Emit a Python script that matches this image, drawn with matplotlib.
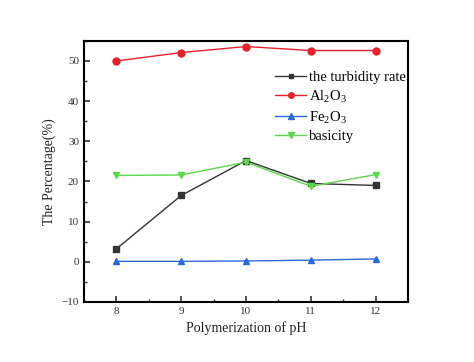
import matplotlib
matplotlib.use("Agg")
import matplotlib.pyplot as plt
from matplotlib.ticker import MultipleLocator

plt.rcParams['font.family'] = ['Liberation Serif', 'DejaVu Serif']
plt.rcParams['mathtext.fontset'] = 'custom'
plt.rcParams['mathtext.rm'] = 'Liberation Serif'

ph = [8, 9, 10, 11, 12]
turbidity = [3.2, 16.5, 25.2, 19.5, 19.0]
al2o3 = [50.0, 52.1, 53.6, 52.6, 52.6]
fe2o3 = [0.1, 0.1, 0.2, 0.4, 0.7]
basicity = [21.5, 21.6, 24.8, 18.8, 21.7]

fig = plt.figure(figsize=(4.74, 3.62), dpi=100)
ax = fig.add_axes([0.177, 0.166, 0.684, 0.721])

ax.plot(ph, turbidity, color='#333333', marker='s', ms=4, lw=1, label='the turbidity rate')
ax.plot(ph, al2o3, color='#e8202a', marker='o', ms=5, lw=1, label=r'Al$_2$O$_3$')
ax.plot(ph, fe2o3, color='#2a6ad8', marker='^', ms=5, lw=1, label=r'Fe$_2$O$_3$')
ax.plot(ph, basicity, color='#5ad84a', marker='v', ms=5, lw=1, label='basicity')

ax.set_xlim(7.5, 12.5)
ax.set_ylim(-10, 55)
ax.xaxis.set_major_locator(MultipleLocator(1))
ax.xaxis.set_minor_locator(MultipleLocator(0.5))
ax.yaxis.set_major_locator(MultipleLocator(10))
ax.yaxis.set_minor_locator(MultipleLocator(5))
ax.tick_params(which='both', direction='in', labelsize=8, colors='#333333')
ax.tick_params(which='major', length=4, width=1.2)
ax.tick_params(which='minor', length=2, width=1)
for s in ax.spines.values():
    s.set_linewidth(1.5)

ax.set_xlabel('Polymerization of pH', fontsize=10, color='#222222')
ax.set_ylabel('The Percentage(%)', fontsize=10, color='#222222')

leg = ax.legend(loc='upper right', bbox_to_anchor=(1.035, 0.935), frameon=False, fontsize=10.5,
                handlelength=2.1, labelspacing=0.28, handletextpad=0.25, markerscale=0.8)

fig.savefig('out.png', dpi=100)
